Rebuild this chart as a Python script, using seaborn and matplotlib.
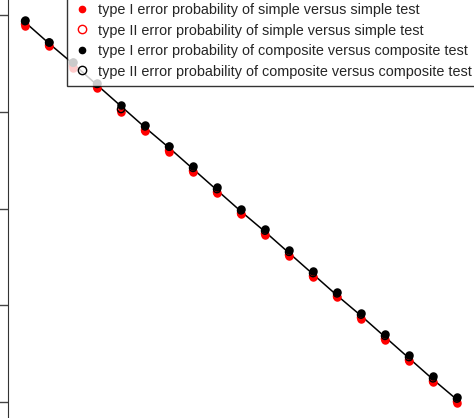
import matplotlib
matplotlib.use("Agg")
import matplotlib.pyplot as plt
import seaborn as sns
from matplotlib.lines import Line2D

steps = list(range(19))
line_y = [3.93, 3.71, 3.50, 3.28, 3.06, 2.84, 2.63, 2.41, 2.19, 1.97, 1.76, 1.54, 1.32, 1.10, 0.89, 0.67, 0.45, 0.23, 0.02]
type1_simple = [3.89, 3.68, 3.46, 3.25, 3.00, 2.80, 2.59, 2.38, 2.16, 1.94, 1.73, 1.51, 1.29, 1.08, 0.86, 0.64, 0.42, 0.20, -0.01]
type2_simple = [3.91, 3.69, 3.48, 3.26, 3.02, 2.81, 2.60, 2.39, 2.17, 1.95, 1.74, 1.52, 1.30, 1.09, 0.87, 0.65, 0.43, 0.21, 0.00]
type1_comp = [3.95, 3.73, 3.52, 3.30, 3.07, 2.87, 2.65, 2.44, 2.22, 2.00, 1.79, 1.57, 1.35, 1.14, 0.92, 0.70, 0.48, 0.26, 0.05]
type2_comp = [3.94, 3.72, 3.51, 3.29, 3.03, 2.85, 2.64, 2.42, 2.20, 1.98, 1.77, 1.55, 1.33, 1.12, 0.90, 0.68, 0.46, 0.24, 0.03]

sns.set_style("white")
plt.rcParams['font.family'] = ['Liberation Sans', 'DejaVu Sans']
fig = plt.figure(figsize=(4.74, 4.18), dpi=100)
ax = fig.add_axes([8/474, 0, 1 - 8/474, 1])

sns.lineplot(x=steps, y=line_y, ax=ax, color='black', lw=1.1)
kw = dict(s=26, linewidth=1.0, ax=ax, zorder=3)
sns.scatterplot(x=steps, y=type1_simple, color='red', edgecolor='red', **kw)
sns.scatterplot(x=steps, y=type2_simple, facecolor='none', edgecolor='red', **kw)
sns.scatterplot(x=steps, y=type1_comp, color='black', edgecolor='black', **kw)
sns.scatterplot(x=steps, y=type2_comp, facecolor='none', edgecolor='black', **kw)

ax.set_xlim(-0.71, 18.71)
ax.set_ylim(-0.17, 4.16)
ax.set_yticks([0, 1, 2, 3, 4])
ax.set_yticklabels([])
ax.set_xticks([])
ax.tick_params(axis='y', left=True, length=8, width=1, color='#444444', direction='out')
for s in ['top', 'right', 'bottom']:
    ax.spines[s].set_visible(False)
ax.spines['left'].set_color('#333333')

handles = [
    Line2D([], [], ls='', marker='o', ms=4.5, mfc='red', mec='red'),
    Line2D([], [], ls='', marker='o', ms=6, mfc='none', mec='red'),
    Line2D([], [], ls='', marker='o', ms=4.5, mfc='black', mec='black'),
    Line2D([], [], ls='', marker='o', ms=6, mfc='none', mec='black'),
]
labels = ["type I error probability of simple versus simple test",
          "type II error probability of simple versus simple test",
          "type I error probability of composite versus composite test",
          "type II error probability of composite versus composite test"]
leg = ax.legend(handles, labels, loc='upper right', bbox_to_anchor=(1.01, 1.01),
                fontsize=10.4, frameon=True, fancybox=False, handletextpad=0.6,
                borderpad=0.5, labelspacing=0.45, handlelength=1.0, borderaxespad=0)
leg.get_frame().set_edgecolor('black')
leg.get_frame().set_linewidth(1.0)
fig.savefig("out.png", dpi=100)
